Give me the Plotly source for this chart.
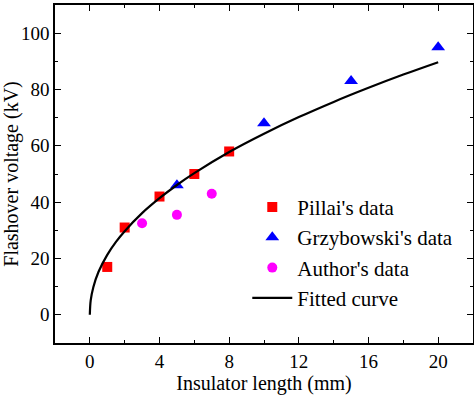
import plotly.graph_objects as go

pillai_x = [1, 2, 4, 6, 8]
pillai_y = [17, 31, 42, 50, 58]
grzy_x = [5, 10, 15, 20]
grzy_y = [46, 68, 83, 95]
author_x = [3, 5, 7]
author_y = [32.5, 35.5, 43]
fit_x = [0, 0.05, 0.2, 0.5, 1, 1.5, 2, 3, 4, 5, 6, 8, 10, 12, 14, 16, 18, 20]
fit_y = [0, 5.1, 9.8, 15.3, 21.3, 25.9, 29.7, 36.1, 41.4, 46.1, 50.3, 57.8, 64.3, 70.2, 75.6, 80.6, 85.3, 89.7]

FONT = "Liberation Serif, Times New Roman, serif"

fig = go.Figure()
fig.add_trace(go.Scatter(x=pillai_x, y=pillai_y, mode="markers", name="Pillai's data",
                         marker=dict(symbol="square", size=10, color="#ff0000")))
fig.add_trace(go.Scatter(x=grzy_x, y=grzy_y, mode="markers", name="Grzybowski's data",
                         marker=dict(symbol="triangle-up", size=12, color="#0000ff")))
fig.add_trace(go.Scatter(x=author_x, y=author_y, mode="markers", name="Author's data",
                         marker=dict(symbol="circle", size=10, color="#ff00ff")))
fig.add_trace(go.Scatter(x=fit_x, y=fit_y, mode="lines", name="Fitted curve",
                         line=dict(color="black", width=2.2, shape="spline")))

axis_common = dict(showline=True, linecolor="black", linewidth=1.5, mirror="allticks",
                   ticks="inside", ticklen=6, tickwidth=1.2, tickcolor="black",
                   showgrid=False, zeroline=False, automargin=False,
                   tickfont=dict(family=FONT, size=19, color="black"))

fig.update_xaxes(range=[-2, 22], tick0=0, dtick=4,
                 title=dict(text="Insulator length (mm)", font=dict(family=FONT, size=20, color="black"), standoff=0),
                 minor=dict(ticks="inside", ticklen=3, dtick=2, tick0=0, tickcolor="black", showgrid=False),
                 **axis_common)
fig.update_yaxes(range=[-10, 110], tick0=0, dtick=20,
                 title=dict(text="Flashover voltage (kV)", font=dict(family=FONT, size=20, color="black"), standoff=0),
                 minor=dict(ticks="inside", ticklen=3, dtick=10, tick0=0, tickcolor="black", showgrid=False),
                 **axis_common)

fig.update_layout(
    width=474, height=395,
    margin=dict(l=55, r=1, t=5, b=52),
    plot_bgcolor="white", paper_bgcolor="white",
    legend=dict(x=0.46, y=0.462, xanchor="left", yanchor="top",
                font=dict(family=FONT, size=21, color="black"),
                bgcolor="rgba(0,0,0,0)", itemwidth=40, tracegroupgap=0),
    font=dict(family=FONT, color="black"),
)

fig.write_html("out.html", config={"displayModeBar": False},
               post_script="document.body.style.margin='0';document.body.style.overflow='hidden';")
